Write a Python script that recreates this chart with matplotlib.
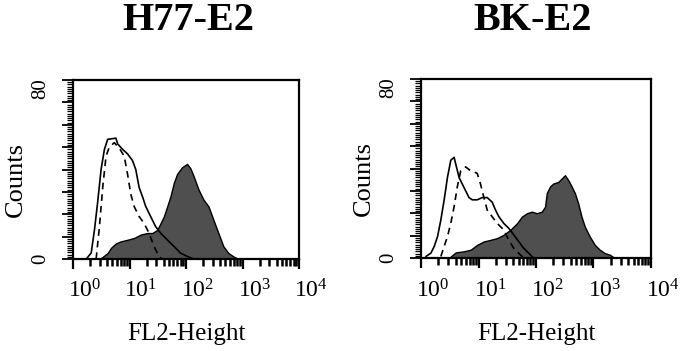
import numpy as np
import matplotlib
matplotlib.use("Agg")
import matplotlib.pyplot as plt
import matplotlib.transforms as mtransforms

plt.rcParams['font.family'] = ['Liberation Serif', 'DejaVu Serif']
plt.rcParams['mathtext.fontset'] = 'custom'
plt.rcParams['mathtext.rm'] = 'Liberation Serif'
plt.rcParams['mathtext.it'] = 'Liberation Serif:italic'

# ---------------- data (log10 of FL2-Height, counts) ----------------
titles = ["H77-E2", "BK-E2"]
decades = [0, 1, 2, 3, 4]
y_labels = [0, 80]

# H77-E2
h77_solid_logx = [0.234, 0.322, 0.380, 0.439, 0.497, 0.556, 0.614, 0.760, 0.789, 0.877, 0.965, 1.053,
                  1.111, 1.170, 1.228, 1.287, 1.374, 1.462, 1.550, 1.667, 1.784, 1.901, 2.018, 2.135]
h77_solid_cnt = [0, 2.7, 13, 26, 40, 49, 53.5, 54, 51.5, 49, 47, 44,
                 40, 32, 28, 23.5, 19, 14.5, 11.6, 8.6, 5.7, 2.7, 1.2, 0]
h77_dash_logx = [0.409, 0.468, 0.526, 0.585, 0.643, 0.731, 0.819, 0.906, 0.965, 1.023, 1.082, 1.170,
                 1.257, 1.345, 1.433, 1.520, 1.579]
h77_dash_cnt = [0, 14.5, 32, 46, 50, 52, 49.5, 46, 38, 29, 23.5, 19, 16, 11.6, 5.7, 1.2, 0]
h77_fill_logx = [0.497, 0.614, 0.673, 0.760, 0.848, 0.965, 1.082, 1.199, 1.316, 1.404, 1.491, 1.550,
                 1.608, 1.667, 1.725, 1.784, 1.842, 1.930, 2.018, 2.076, 2.135, 2.222, 2.310, 2.398,
                 2.485, 2.573, 2.661, 2.749, 2.836, 2.924]
h77_fill_cnt = [0.4, 2.7, 5, 7, 7.9, 8.6, 9.4, 10.9, 11.6, 11.6, 13, 16,
                19, 23.5, 28, 34, 38, 41, 42.5, 40.6, 37, 31, 26.5, 23.5,
                17.5, 11.6, 5.7, 2.7, 1.2, 0]

# BK-E2
bk_solid_logx = [0.086, 0.173, 0.230, 0.288, 0.345, 0.403, 0.460, 0.518, 0.576, 0.604, 0.662, 0.719,
                 0.777, 0.835, 0.892, 0.978, 1.065, 1.151, 1.237, 1.295, 1.353, 1.439, 1.525, 1.612,
                 1.698, 1.784, 1.871, 1.957]
bk_solid_cnt = [0.7, 2.2, 5.2, 9.6, 17, 26, 36, 43.7, 45, 42, 36, 33,
                30, 27, 26, 26, 27, 27, 25, 21.5, 18.5, 15.5, 13.3, 10.4,
                7.4, 4.4, 2.2, 0]
bk_dash_logx = [0.345, 0.403, 0.460, 0.518, 0.576, 0.633, 0.691, 0.777, 0.863, 0.921, 0.978, 1.036,
                1.094, 1.151, 1.237, 1.324, 1.439, 1.525, 1.612, 1.698, 1.784]
bk_dash_cnt = [0.7, 5.2, 9.6, 15.5, 23, 32, 39, 40.7, 39, 38.5, 37.8, 33,
               27, 21.5, 18.5, 15.5, 12.6, 8, 4.4, 2.2, 0]
bk_fill_logx = [0.518, 0.604, 0.748, 0.863, 0.978, 1.094, 1.209, 1.324, 1.439, 1.554, 1.669, 1.755,
                1.842, 1.928, 2.014, 2.101, 2.158, 2.187, 2.245, 2.302, 2.388, 2.475, 2.504, 2.561,
                2.619, 2.676, 2.734, 2.791, 2.849, 2.935, 3.022, 3.108, 3.194, 3.281, 3.367]
bk_fill_cnt = [0.7, 2.5, 3, 3.7, 5.9, 7.4, 8.1, 8.9, 10.4, 12.6, 15.5, 18.5,
               20, 20.7, 20, 20.7, 23, 29, 32, 33.3, 34, 36.3, 37, 34.8,
               32, 29, 24.4, 18.5, 14, 9.6, 5.9, 3.7, 2.2, 1.5, 0]

panels = [
    (h77_solid_logx, h77_solid_cnt, h77_dash_logx, h77_dash_cnt, h77_fill_logx, h77_fill_cnt),
    (bk_solid_logx, bk_solid_cnt, bk_dash_logx, bk_dash_cnt, bk_fill_logx, bk_fill_cnt),
]

W, H = 685, 351
fig = plt.figure(figsize=(W / 100, H / 100), dpi=100)

# axes boxes in pixels: (left, top, right, bottom)
boxes = [(73, 80, 299, 259), (421, 79, 651, 258)]

for i, (box, data, title) in enumerate(zip(boxes, panels, titles)):
    l, t, r, b = box
    ax = fig.add_axes([l / W, (H - b) / H, (r - l) / W, (b - t) / H])
    sx, sc, dx, dc, fx, fc = data
    fx_v = 10 ** np.array(fx)
    ax.fill_between(fx_v, 0, fc, facecolor='#4f4f4f', edgecolor='black', linewidth=1.0, zorder=2)
    ax.plot(10 ** np.array(sx), sc, color='black', lw=1.2, zorder=3)
    ax.plot(10 ** np.array(dx), dc, color='black', lw=1.2, ls=(0, (4, 3)), zorder=3)

    ax.set_xscale('log')
    ax.set_xlim(1, 1e4)
    ax.set_ylim(0, 80)
    for sp in ax.spines.values():
        sp.set_linewidth(1.6)

    ax.set_xticks([10 ** d for d in decades])
    ax.xaxis.set_minor_locator(matplotlib.ticker.LogLocator(base=10, subs=np.arange(2, 10), numticks=20))
    ax.xaxis.set_minor_formatter(matplotlib.ticker.NullFormatter())
    ax.set_xticklabels([])
    ax.tick_params(axis='x', which='major', direction='out', length=7, width=1.6)
    ax.tick_params(axis='x', which='minor', direction='out', length=5, width=1.8)

    ax.set_yticks(np.arange(0, 81, 10))
    ax.set_yticks(np.arange(0, 81, 1), minor=True)
    ax.set_yticklabels([])
    ax.tick_params(axis='y', which='major', direction='out', length=8, width=1.3)
    ax.tick_params(axis='y', which='minor', direction='out', length=4, width=0.9)

    # x tick labels
    trans_x = ax.get_xaxis_transform()
    for d in decades:
        off = mtransforms.ScaledTranslation(-5 / 100, -39 / 100, fig.dpi_scale_trans)
        ax.text(10 ** d, 0, r'$\mathregular{10^{%d}}$' % d, transform=trans_x + off,
                ha='left', va='baseline', fontsize=17)

    # y tick labels (rotated)
    trans_y = ax.get_yaxis_transform()
    for v in y_labels:
        dy = -9 if v == 80 else 0
        off = mtransforms.ScaledTranslation(-32 / 100, dy / 100, fig.dpi_scale_trans)
        ax.text(0, v, str(v), transform=trans_y + off, rotation=90,
                ha='center', va='center', fontsize=15)

    # Counts
    off = mtransforms.ScaledTranslation(-57 / 100, -10 / 100, fig.dpi_scale_trans)
    ax.text(0, 0.5, 'Counts', transform=ax.transAxes + off, rotation=90,
            ha='center', va='center', fontsize=19)

    # FL2-Height
    cx = (l + r) / 2 / W
    fig.text(cx, 1 - 340 / H, 'FL2-Height', ha='center', va='baseline', fontsize=18)
    # Title
    fig.text(cx + (2 / W if i == 0 else -3 / W), 1 - 30 / H, title, ha='center', va='baseline',
             fontsize=29, fontweight='bold')

fig.savefig('out.png', dpi=100)
